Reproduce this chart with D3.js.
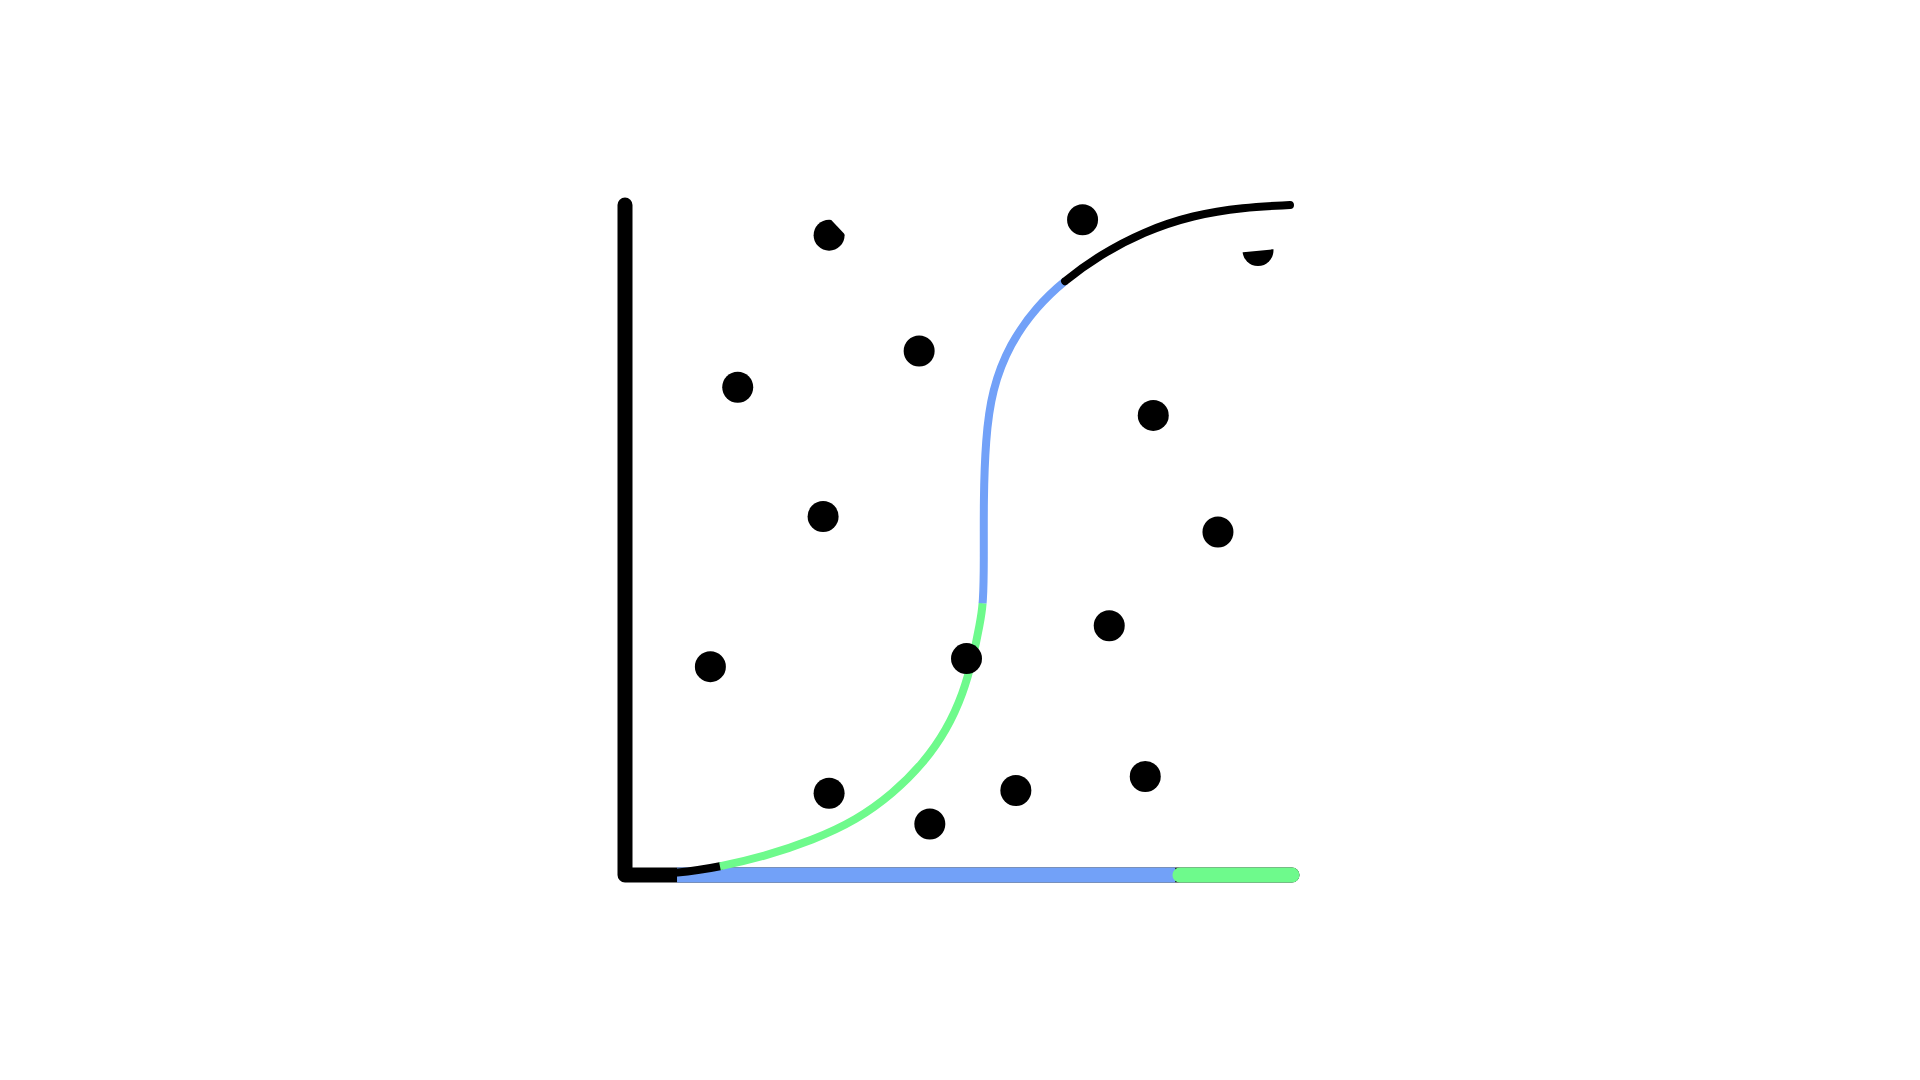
<!DOCTYPE html>
<html>
<head>
<meta charset="utf-8">
<script src="https://cdn.jsdelivr.net/npm/d3@7"></script>
<style>
  html, body { margin: 0; padding: 0; background: #fff; }
</style>
</head>
<body>
<script>
// scatter points (data units 0..100)
let pointX = [30.6, 68.6, 94.9, 44.1, 16.9, 79.2, 29.7, 88.9, 72.6, 12.8, 51.2, 78.0, 30.6, 58.6, 45.7];
let pointY = [95.5, 97.8, 93.2, 78.2, 72.8, 68.6, 53.5, 51.2, 37.2, 31.1, 32.3, 14.7, 12.2, 12.6, 7.6];
// how each point is cut: none, corner (top-right chipped), half (top half missing)
let pointCut = ['corner', 'none', 'half', 'none', 'none', 'none', 'none', 'none', 'none', 'none', 'none', 'none', 'none', 'none', 'none'];

// the S shaped curve
let curveX = [0, 8.25, 14.24, 20.73, 28.23, 34.74, 40.22, 44.72, 48.23, 50.72, 52.22, 53.22, 53.72,
              53.82, 53.75, 54.05, 54.98, 57.72, 61.72, 65.86, 71.21, 77.71, 85.2, 92.7, 99.7];
let curveY = [0, 0.25, 1.24, 2.73, 5.22, 8.21, 12.19, 16.67, 21.64, 27.12, 32.58, 37.57, 40.55,
              47.01, 55.97, 64.93, 72.39, 79.36, 84.82, 88.7, 92.54, 96.01, 98.51, 99.66, 100];
// index of the curve points where the colour changes
let curveBreaks = [0, 2, 12, 19, 24];

// x axis bar pieces
let barFrom = [7.8, 83.2];
let barTo = [82.5, 100];

// styles
let black = '#000';
let blue = '#72a1f8';
let green = '#6efa8c';
let curveColors = [black, green, blue, black];
let barColors = [blue, green];

let width = 1920, height = 1080;

let svg = d3.select('body').append('svg')
  .attr('width', width)
  .attr('height', height)
  .style('display', 'block');

svg.append('rect').attr('width', width).attr('height', height).attr('fill', '#fff');

let x = d3.scaleLinear().domain([0, 100]).range([625, 1292]);
let y = d3.scaleLinear().domain([0, 100]).range([875, 205]);

// axes as one black L
let axisLine = d3.line().x(d => x(d[0])).y(d => y(d[1]));
svg.append('path')
  .attr('d', axisLine([[0, 100], [0, 0], [100, 0]]))
  .attr('fill', 'none')
  .attr('stroke', black)
  .attr('stroke-width', 15)
  .attr('stroke-linecap', 'round')
  .attr('stroke-linejoin', 'round');

// coloured pieces of the x bar
svg.selectAll('line.bar')
  .data(barFrom)
  .enter()
  .append('line')
  .attr('class', 'bar')
  .attr('x1', d => x(d))
  .attr('x2', (d, i) => x(barTo[i]))
  .attr('y1', y(0))
  .attr('y2', y(0))
  .attr('stroke', (d, i) => barColors[i])
  .attr('stroke-width', 15)
  .attr('stroke-linecap', (d, i) => i === 0 ? 'butt' : 'round');

// curve: one smooth path, shown piece by piece with dashes
let curvePts = curveX.map((d, i) => [d, curveY[i]]);
let curveLine = d3.line()
  .x(d => x(d[0]))
  .y(d => y(d[1]))
  .curve(d3.curveBasis);
let curveD = curveLine(curvePts);

// find the length along the path at each break point
let probe = svg.append('path').attr('d', curveD).attr('fill', 'none');
let node = probe.node();
let total = node.getTotalLength();
let breakLen = curveBreaks.map(function (k) {
  let px = x(curveX[k]), py = y(curveY[k]);
  let best = 0, bestD = Infinity;
  for (let l = 0; l <= total; l += 0.5) {
    let p = node.getPointAtLength(l);
    let dd = (p.x - px) * (p.x - px) + (p.y - py) * (p.y - py);
    if (dd < bestD) { bestD = dd; best = l; }
  }
  return best;
});
breakLen[0] = 0;
breakLen[breakLen.length - 1] = total;
probe.remove();

svg.selectAll('path.curve')
  .data(curveColors)
  .enter()
  .append('path')
  .attr('class', 'curve')
  .attr('d', curveD)
  .attr('fill', 'none')
  .attr('stroke', d => d)
  .attr('stroke-width', 8)
  .attr('stroke-linecap', (d, i) => (i === 0 || i === curveColors.length - 1) ? 'round' : 'butt')
  .attr('stroke-dasharray', function (d, i) {
    let a = breakLen[i], b = breakLen[i + 1];
    return [0, a, b - a, total + 10].join(' ');
  });

// points
let r = 15.5;
let defs = svg.append('defs');
pointX.forEach(function (d, i) {
  let cx = x(d), cy = y(pointY[i]);
  let clip = null;
  if (pointCut[i] === 'corner') {
    clip = 'cut' + i;
    defs.append('clipPath').attr('id', clip)
      .append('polygon')
      .attr('points', [
        [cx - r - 2, cy - r - 2], [cx, cy - r - 2], [cx + r + 2, cy + 1],
        [cx + r + 2, cy + r + 2], [cx - r - 2, cy + r + 2]
      ].map(p => p.join(',')).join(' '));
  } else if (pointCut[i] === 'half') {
    clip = 'cut' + i;
    defs.append('clipPath').attr('id', clip)
      .append('polygon')
      .attr('points', [
        [cx - r - 2, cy + 2], [cx + r + 2, cy - 1.5],
        [cx + r + 2, cy + r + 2], [cx - r - 2, cy + r + 2]
      ].map(p => p.join(',')).join(' '));
  }
  let c = svg.append('circle')
    .attr('cx', cx)
    .attr('cy', cy)
    .attr('r', r)
    .attr('fill', black);
  if (clip) c.attr('clip-path', 'url(#' + clip + ')');
});
</script>
</body>
</html>
